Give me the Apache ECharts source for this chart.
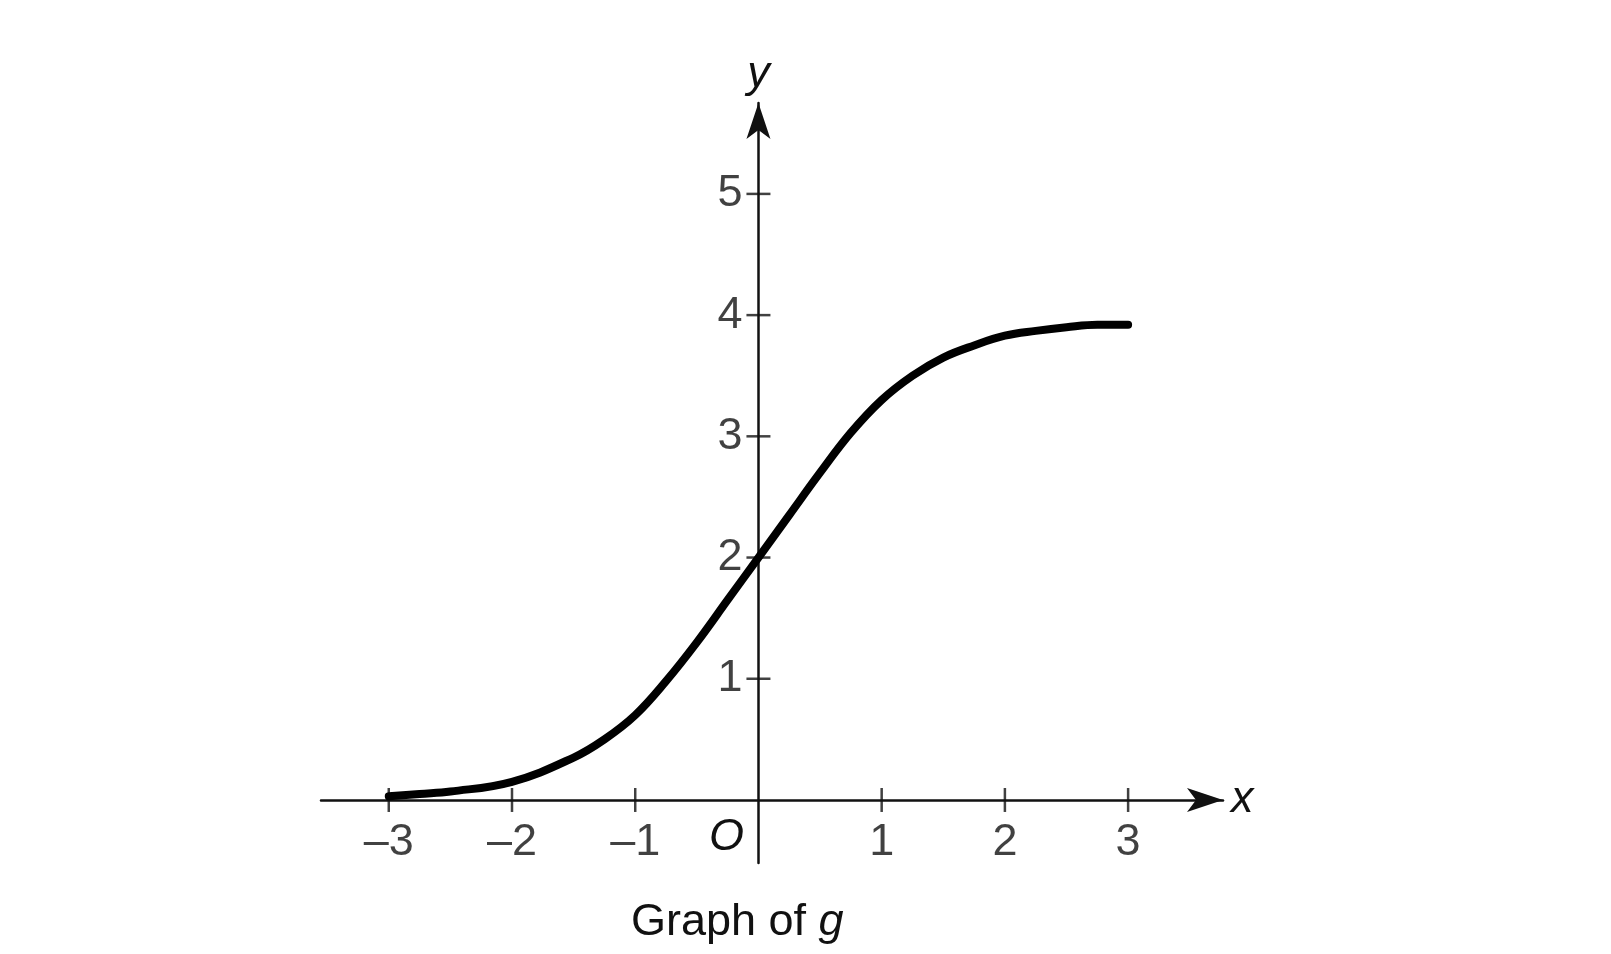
<!DOCTYPE html>
<html><head><meta charset="utf-8">
<script src="https://cdn.jsdelivr.net/npm/echarts@6/dist/echarts.min.js"></script>
<style>html,body{margin:0;background:#fff}#c{width:1611px;height:954px}</style>
</head><body><div id="c"></div>
<script>
const xs = [-3,-2.75,-2.5,-2,-1.5,-1.25,-1,-0.75,-0.5,-0.25,0,0.25,0.5,0.75,1,1.25,1.5,1.75,2,2.25,2.5,2.75,3];
const ys = [0.03,0.05,0.07,0.15,0.35,0.5,0.7,0.98,1.3,1.65,2.0,2.35,2.7,3.03,3.3,3.5,3.65,3.75,3.83,3.87,3.9,3.92,3.92];
const xTicks = [-3,-2,-1,1,2,3];
const yTicks = [1,2,3,4,5];
const font = 'Liberation Sans, Arial, sans-serif';
const lab = {fontSize:45,fontFamily:font,color:'#111'};
const chart = echarts.init(document.getElementById('c'));
chart.setOption({
  animation:false,
  grid:{left:321,right:388,top:103,bottom:91},
  xAxis:{type:'value',min:-3.55,max:3.77,name:'x',nameGap:8,
    nameTextStyle:{fontSize:45,fontStyle:'italic',fontFamily:font,color:'#111',verticalAlign:'middle'},
    axisLine:{onZero:true,symbol:['none','arrow'],symbolSize:[18,36],lineStyle:{color:'#111',width:2.5}},
    axisTick:{show:false},splitLine:{show:false},axisLabel:{show:false}},
  yAxis:{type:'value',min:-0.52,max:5.75,name:'y',nameGap:6,
    nameTextStyle:{fontSize:45,fontStyle:'italic',fontFamily:font,color:'#111'},
    axisLine:{onZero:true,symbol:['none','arrow'],symbolSize:[18,36],lineStyle:{color:'#111',width:2.5}},
    axisTick:{show:false},splitLine:{show:false},axisLabel:{show:false}},
  graphic:[
    {type:'text',left:709,top:815,style:{text:'O',fontSize:45,fontStyle:'italic',fontFamily:font,fill:'#111'}},
    {type:'text',left:631,top:900,style:{rich:{a:{fontSize:45,fontFamily:font,fill:'#111'},b:{fontSize:45,fontFamily:font,fontStyle:'italic',fill:'#111'}},text:'{a|Graph of }{b|g}'}}
  ],
  series:[
    {type:'scatter',data:xTicks.map(v=>[v,0]),symbol:'rect',symbolSize:[2.5,24],itemStyle:{color:'#111'},silent:true,
      label:{show:true,position:'bottom',distance:8,...lab,formatter:p=>String(p.value[0]).replace('-','\u2013')}},
    {type:'scatter',data:yTicks.map(v=>[0,v]),symbol:'rect',symbolSize:[24,2.5],itemStyle:{color:'#111'},silent:true,
      label:{show:true,position:'left',distance:4,...lab,formatter:p=>String(p.value[1])}},
    {type:'line',data:xs.map((x,i)=>[x,ys[i]]),smooth:0.4,showSymbol:false,
      lineStyle:{color:'#000',width:8,cap:'round'}}
  ]
});
</script></body></html>
